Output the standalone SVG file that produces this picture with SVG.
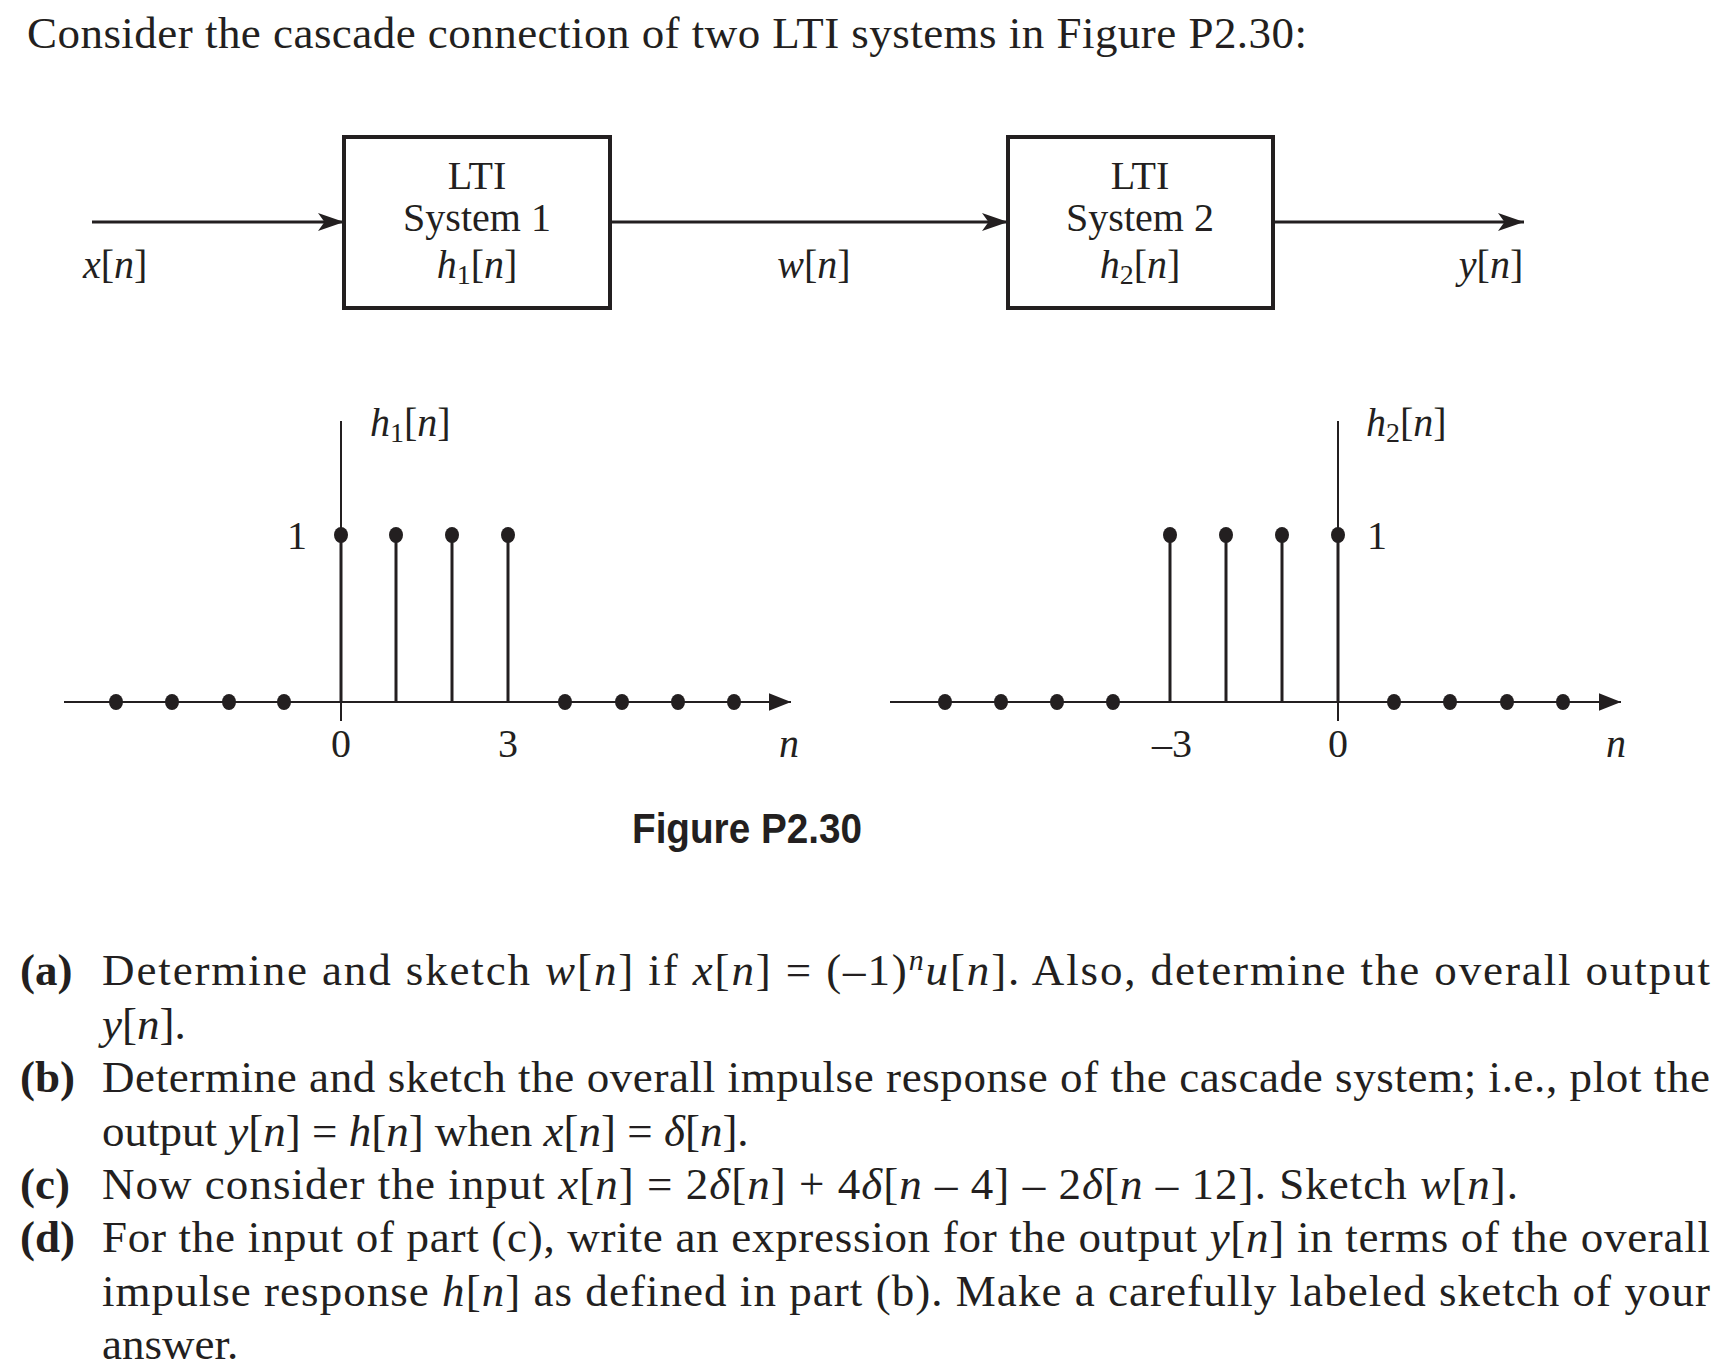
<svg xmlns="http://www.w3.org/2000/svg" width="1721" height="1372" viewBox="0 0 1721 1372">
<style>
text{font-family:"Liberation Serif","Times New Roman",serif;fill:#231f20}
.t{font-size:45px}
.b{font-size:40px}
.i{font-style:italic}
.sub{font-size:28px}
.box{fill:none;stroke:#231f20;stroke-width:4}
.ln{stroke:#231f20;stroke-width:3;fill:none}
.ax{stroke:#231f20;stroke-width:2;fill:none}
.st{stroke:#231f20;stroke-width:3}
.d{fill:#231f20}
.fig{font-family:"Liberation Sans",Arial,sans-serif;font-weight:bold;font-size:42px}
.bd{font-weight:bold}
</style>
<defs>
<marker id="ar2" viewBox="0 0 10 10" refX="10" refY="5" markerWidth="26" markerHeight="26" markerUnits="userSpaceOnUse" orient="auto"><path d="M0,1.5 L10,5 L0,8.5 L2.5,5 z" fill="#231f20"/></marker>
<marker id="ar3" viewBox="0 0 10 10" refX="10" refY="5" markerWidth="22" markerHeight="22" markerUnits="userSpaceOnUse" orient="auto"><path d="M0,1 L10,5 L0,9 z" fill="#231f20"/></marker>
</defs>
<text class="t" x="27" y="48" textLength="1280">Consider the cascade connection of two LTI systems in Figure P2.30:</text>
<g id="connectors">
<line class="ln" x1="92" y1="222" x2="344" y2="222" marker-end="url(#ar2)"/>
<line class="ln" x1="610" y1="222" x2="1008" y2="222" marker-end="url(#ar2)"/>
<line class="ln" x1="1273" y1="222" x2="1524" y2="222" marker-end="url(#ar2)"/>
</g>
<g id="labels">
<text class="b" x="83" y="278"><tspan class="i">x</tspan>[<tspan class="i">n</tspan>]</text>
<text class="b" x="814" y="278" text-anchor="middle"><tspan class="i">w</tspan>[<tspan class="i">n</tspan>]</text>
<text class="b" x="1491" y="278" text-anchor="middle"><tspan class="i">y</tspan>[<tspan class="i">n</tspan>]</text>
</g>
<g id="sys1">
<rect class="box" x="344" y="137" width="266" height="171"/>
<text class="b" x="477" y="189" text-anchor="middle">LTI</text>
<text class="b" x="477" y="231" text-anchor="middle">System 1</text>
<text class="b" x="477" y="278" text-anchor="middle"><tspan class="i">h</tspan><tspan class="sub" dy="6">1</tspan><tspan dy="-6">[</tspan><tspan class="i">n</tspan>]</text>
</g>
<g id="sys2">
<rect class="box" x="1008" y="137" width="265" height="171"/>
<text class="b" x="1140" y="189" text-anchor="middle">LTI</text>
<text class="b" x="1140" y="231" text-anchor="middle">System 2</text>
<text class="b" x="1140" y="278" text-anchor="middle"><tspan class="i">h</tspan><tspan class="sub" dy="6">2</tspan><tspan dy="-6">[</tspan><tspan class="i">n</tspan>]</text>
</g>
<g id="plot1" transform="translate(-5,-7)">
<line class="ax" x1="69" y1="709" x2="796" y2="709" marker-end="url(#ar3)"/>
<line class="ax" x1="346" y1="428" x2="346" y2="728"/>
<line class="st" x1="346" y1="542" x2="346" y2="709"/>
<line class="st" x1="401" y1="542" x2="401" y2="709"/>
<line class="st" x1="457" y1="542" x2="457" y2="709"/>
<line class="st" x1="513" y1="542" x2="513" y2="709"/>
<g class="d">
<ellipse cx="346" cy="542" rx="7" ry="8"/><ellipse cx="401" cy="542" rx="7" ry="8"/><ellipse cx="457" cy="542" rx="7" ry="8"/><ellipse cx="513" cy="542" rx="7" ry="8"/>
<ellipse cx="121" cy="709" rx="7" ry="8"/><ellipse cx="177" cy="709" rx="7" ry="8"/><ellipse cx="234" cy="709" rx="7" ry="8"/><ellipse cx="289" cy="709" rx="7" ry="8"/>
<ellipse cx="570" cy="709" rx="7" ry="8"/><ellipse cx="627" cy="709" rx="7" ry="8"/><ellipse cx="683" cy="709" rx="7" ry="8"/><ellipse cx="739" cy="709" rx="7" ry="8"/>
</g>
<text class="b" x="375" y="443"><tspan class="i">h</tspan><tspan class="sub" dy="6">1</tspan><tspan dy="-6">[</tspan><tspan class="i">n</tspan>]</text>
<text class="b" x="302" y="556" text-anchor="middle">1</text>
<text class="b" x="346" y="764" text-anchor="middle">0</text>
<text class="b" x="513" y="764" text-anchor="middle">3</text>
<text class="b i" x="794" y="764" text-anchor="middle">n</text>
</g>
<g id="plot2" transform="translate(-37,-7)">
<line class="ax" x1="927" y1="709" x2="1658" y2="709" marker-end="url(#ar3)"/>
<line class="ax" x1="1375" y1="428" x2="1375" y2="728"/>
<line class="st" x1="1207" y1="542" x2="1207" y2="709"/>
<line class="st" x1="1263" y1="542" x2="1263" y2="709"/>
<line class="st" x1="1319" y1="542" x2="1319" y2="709"/>
<line class="st" x1="1375" y1="542" x2="1375" y2="709"/>
<g class="d">
<ellipse cx="1207" cy="542" rx="7" ry="8"/><ellipse cx="1263" cy="542" rx="7" ry="8"/><ellipse cx="1319" cy="542" rx="7" ry="8"/><ellipse cx="1375" cy="542" rx="7" ry="8"/>
<ellipse cx="982" cy="709" rx="7" ry="8"/><ellipse cx="1038" cy="709" rx="7" ry="8"/><ellipse cx="1094" cy="709" rx="7" ry="8"/><ellipse cx="1150" cy="709" rx="7" ry="8"/>
<ellipse cx="1431" cy="709" rx="7" ry="8"/><ellipse cx="1487" cy="709" rx="7" ry="8"/><ellipse cx="1544" cy="709" rx="7" ry="8"/><ellipse cx="1600" cy="709" rx="7" ry="8"/>
</g>
<text class="b" x="1403" y="443"><tspan class="i">h</tspan><tspan class="sub" dy="6">2</tspan><tspan dy="-6">[</tspan><tspan class="i">n</tspan>]</text>
<text class="b" x="1414" y="556" text-anchor="middle">1</text>
<text class="b" x="1209" y="764" text-anchor="middle">–3</text>
<text class="b" x="1375" y="764" text-anchor="middle">0</text>
<text class="b i" x="1653" y="764" text-anchor="middle">n</text>
</g>
<text class="fig" x="632" y="843" textLength="230" lengthAdjust="spacingAndGlyphs">Figure P2.30</text>
<g id="questions" class="t">
<text x="20" y="985" class="bd">(a)</text>
<text x="102" y="985" textLength="1608">Determine and sketch <tspan class="i">w</tspan>[<tspan class="i">n</tspan>] if <tspan class="i">x</tspan>[<tspan class="i">n</tspan>] = (–1)<tspan class="i" font-size="30" dy="-15">n</tspan><tspan class="i" dy="15">u</tspan>[<tspan class="i">n</tspan>]. Also, determine the overall output</text>
<text x="102" y="1039"><tspan class="i">y</tspan>[<tspan class="i">n</tspan>].</text>
<text x="20" y="1092" class="bd">(b)</text>
<text x="102" y="1092" textLength="1608">Determine and sketch the overall impulse response of the cascade system; i.e., plot the</text>
<text x="102" y="1146">output <tspan class="i">y</tspan>[<tspan class="i">n</tspan>] = <tspan class="i">h</tspan>[<tspan class="i">n</tspan>] when <tspan class="i">x</tspan>[<tspan class="i">n</tspan>] = <tspan class="i">δ</tspan>[<tspan class="i">n</tspan>].</text>
<text x="20" y="1199" class="bd">(c)</text>
<text x="102" y="1199" textLength="1416">Now consider the input <tspan class="i">x</tspan>[<tspan class="i">n</tspan>] = 2<tspan class="i">δ</tspan>[<tspan class="i">n</tspan>] + 4<tspan class="i">δ</tspan>[<tspan class="i">n</tspan> – 4] – 2<tspan class="i">δ</tspan>[<tspan class="i">n</tspan> – 12]. Sketch <tspan class="i">w</tspan>[<tspan class="i">n</tspan>].</text>
<text x="20" y="1252" class="bd">(d)</text>
<text x="102" y="1252" textLength="1608">For the input of part (c), write an expression for the output <tspan class="i">y</tspan>[<tspan class="i">n</tspan>] in terms of the overall</text>
<text x="102" y="1306" textLength="1608">impulse response <tspan class="i">h</tspan>[<tspan class="i">n</tspan>] as defined in part (b). Make a carefully labeled sketch of your</text>
<text x="102" y="1359">answer.</text>
</g>
</svg>
